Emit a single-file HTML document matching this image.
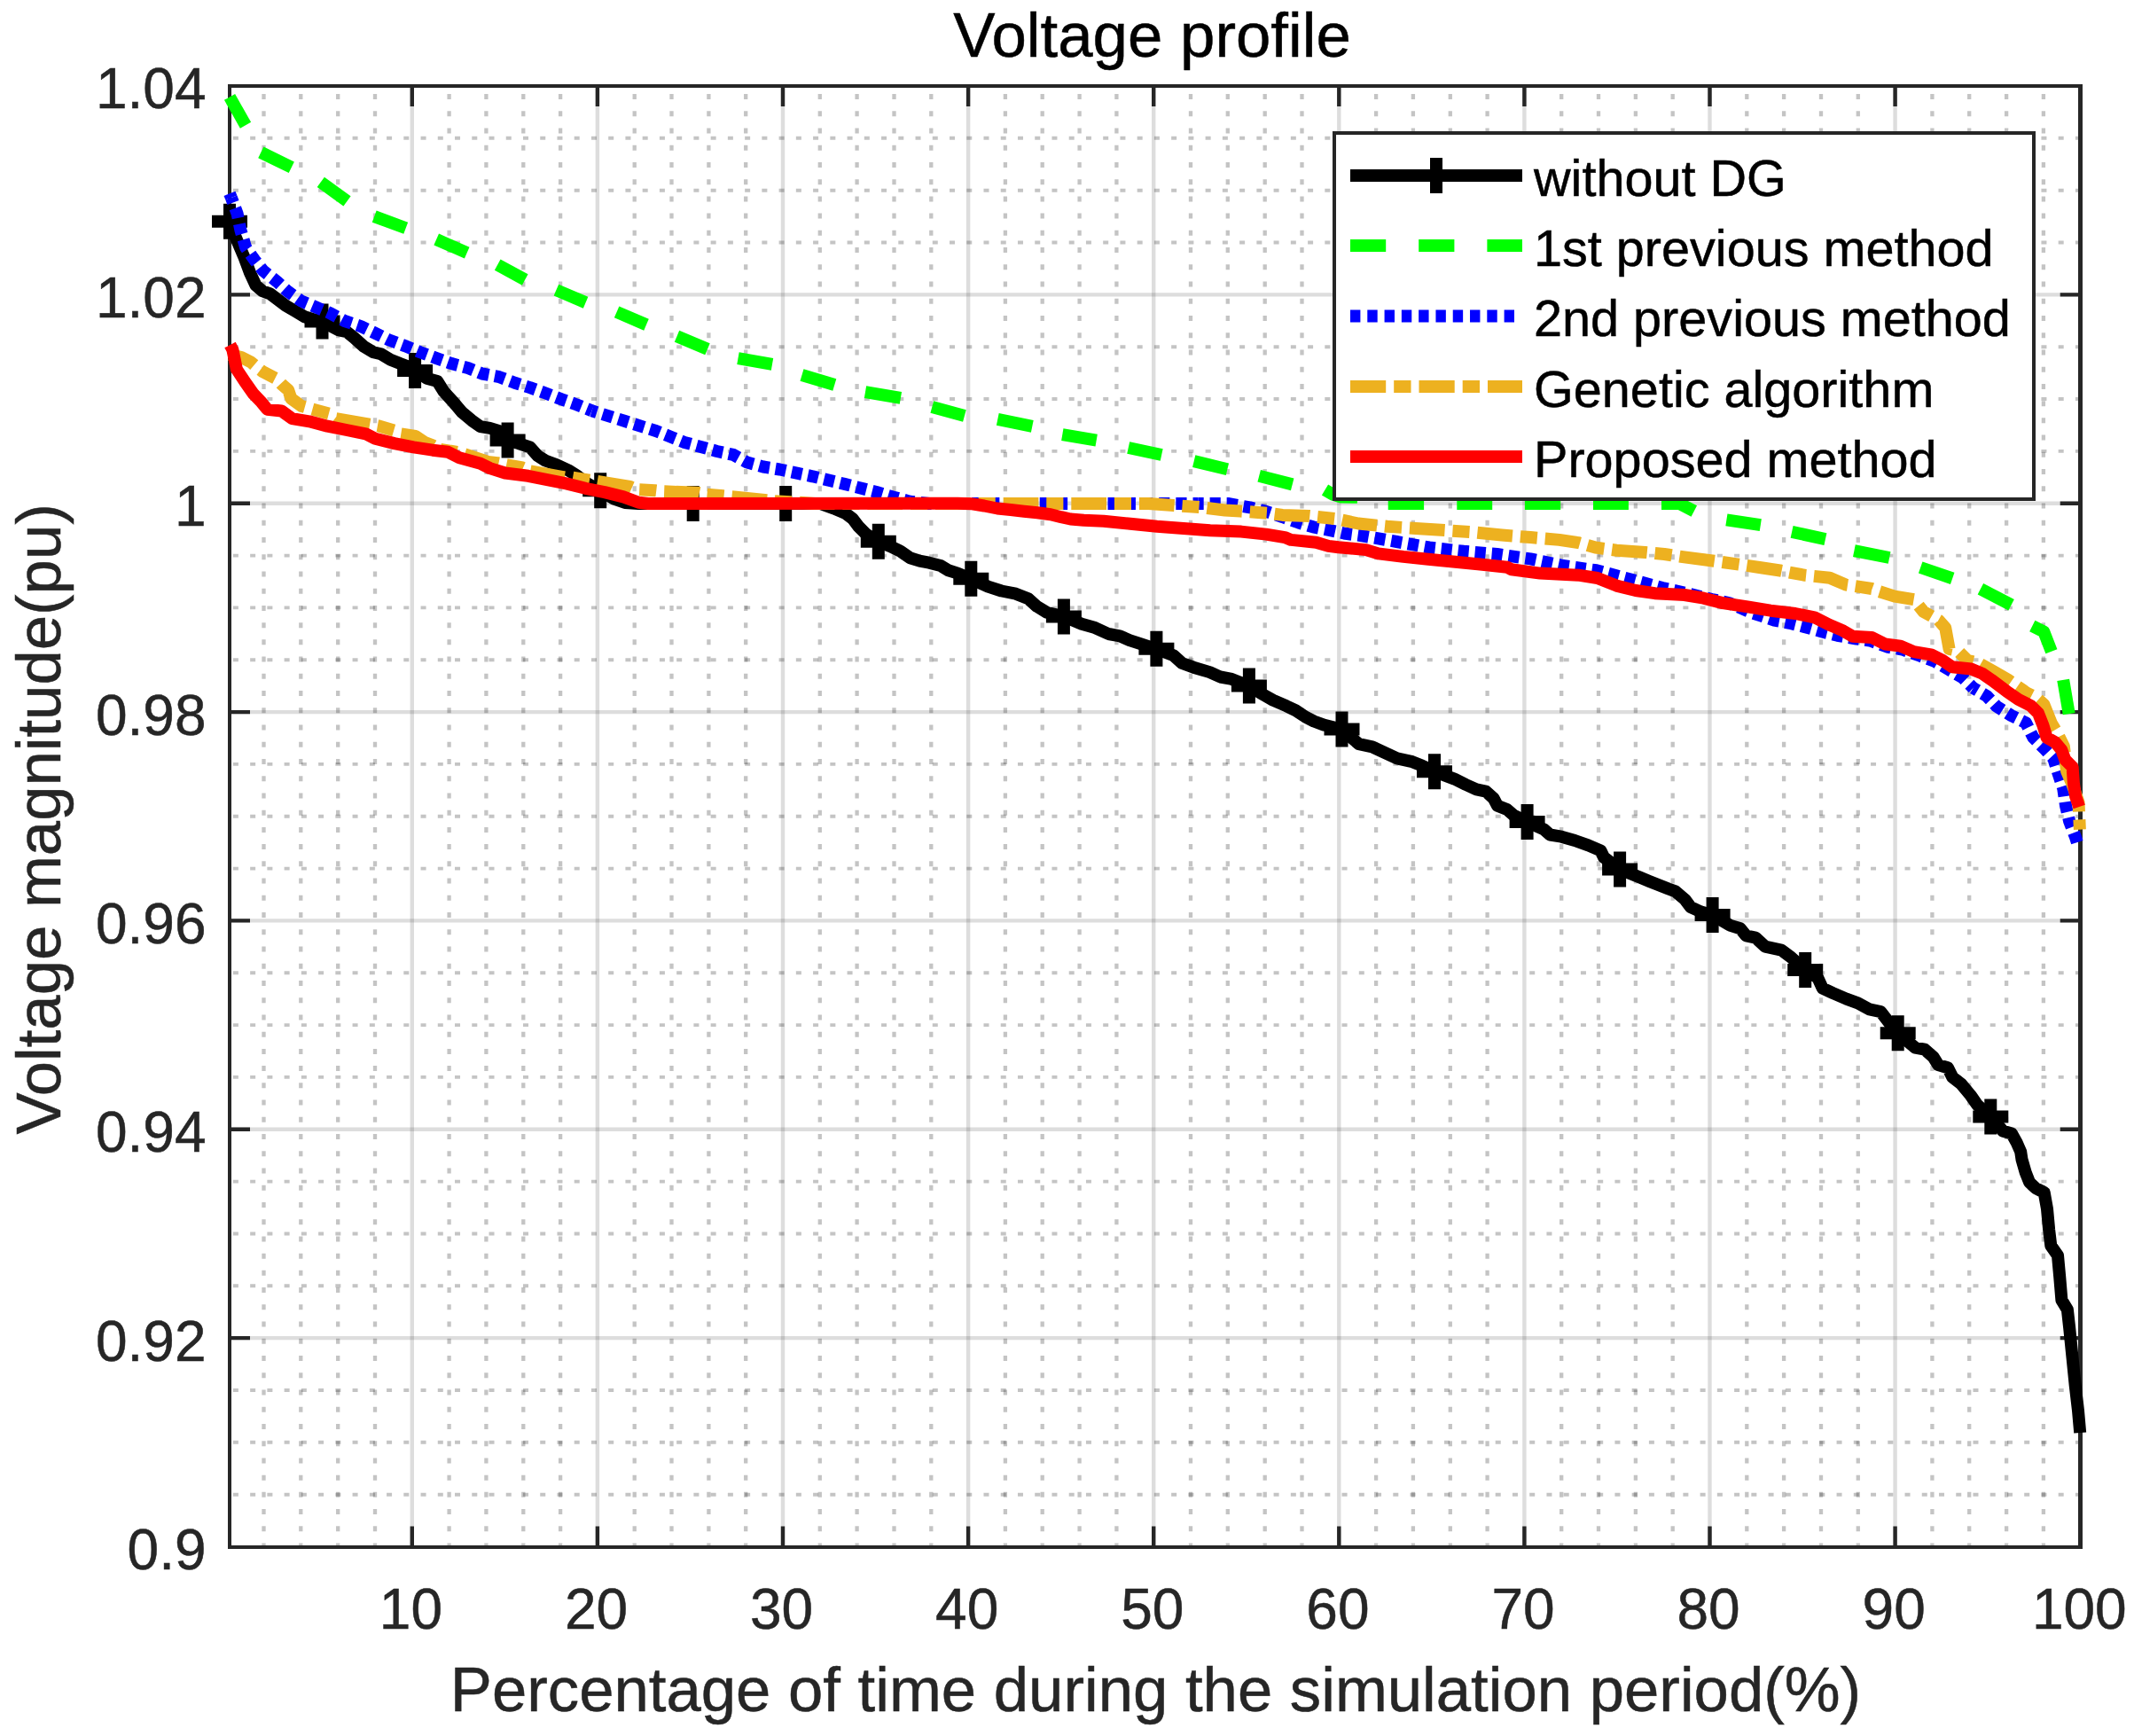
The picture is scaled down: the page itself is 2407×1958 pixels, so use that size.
<!DOCTYPE html>
<html lang="en"><head><meta charset="utf-8"><title>Voltage profile</title>
<style>html,body{margin:0;padding:0;background:#fff}svg{display:block}text{font-family:"Liberation Sans",sans-serif}.tk{font-size:64px;fill:#262626;stroke:#262626;stroke-width:.5px}.lb{font-size:70.7px;fill:#262626;stroke:#262626;stroke-width:.5px}.lg{font-size:57.6px;fill:#000;stroke:#000;stroke-width:.5px}.tt{font-size:70.8px;fill:#000;stroke:#000;stroke-width:.5px}.cv{fill:none;stroke-width:14;stroke-linejoin:round;stroke-linecap:butt}</style></head><body>
<svg width="2407" height="1958" viewBox="0 0 2407 1958">
<rect x="0" y="0" width="2407" height="1958" fill="#fff"/>
<g stroke="#1a1a1a" stroke-opacity="0.26" fill="none">
<line x1="297.5" y1="106" x2="297.5" y2="1744.5" stroke-width="4.3" stroke-dasharray="6 13.230"/>
<line x1="339.3" y1="106" x2="339.3" y2="1744.5" stroke-width="4.3" stroke-dasharray="6 13.230"/>
<line x1="381.2" y1="106" x2="381.2" y2="1744.5" stroke-width="4.3" stroke-dasharray="6 13.230"/>
<line x1="423" y1="106" x2="423" y2="1744.5" stroke-width="4.3" stroke-dasharray="6 13.230"/>
<line x1="506.6" y1="106" x2="506.6" y2="1744.5" stroke-width="4.3" stroke-dasharray="6 13.230"/>
<line x1="548.4" y1="106" x2="548.4" y2="1744.5" stroke-width="4.3" stroke-dasharray="6 13.230"/>
<line x1="590.3" y1="106" x2="590.3" y2="1744.5" stroke-width="4.3" stroke-dasharray="6 13.230"/>
<line x1="632.1" y1="106" x2="632.1" y2="1744.5" stroke-width="4.3" stroke-dasharray="6 13.230"/>
<line x1="715.7" y1="106" x2="715.7" y2="1744.5" stroke-width="4.3" stroke-dasharray="6 13.230"/>
<line x1="757.5" y1="106" x2="757.5" y2="1744.5" stroke-width="4.3" stroke-dasharray="6 13.230"/>
<line x1="799.4" y1="106" x2="799.4" y2="1744.5" stroke-width="4.3" stroke-dasharray="6 13.230"/>
<line x1="841.2" y1="106" x2="841.2" y2="1744.5" stroke-width="4.3" stroke-dasharray="6 13.230"/>
<line x1="924.8" y1="106" x2="924.8" y2="1744.5" stroke-width="4.3" stroke-dasharray="6 13.230"/>
<line x1="966.6" y1="106" x2="966.6" y2="1744.5" stroke-width="4.3" stroke-dasharray="6 13.230"/>
<line x1="1008.5" y1="106" x2="1008.5" y2="1744.5" stroke-width="4.3" stroke-dasharray="6 13.230"/>
<line x1="1050.3" y1="106" x2="1050.3" y2="1744.5" stroke-width="4.3" stroke-dasharray="6 13.230"/>
<line x1="1133.9" y1="106" x2="1133.9" y2="1744.5" stroke-width="4.3" stroke-dasharray="6 13.230"/>
<line x1="1175.7" y1="106" x2="1175.7" y2="1744.5" stroke-width="4.3" stroke-dasharray="6 13.230"/>
<line x1="1217.6" y1="106" x2="1217.6" y2="1744.5" stroke-width="4.3" stroke-dasharray="6 13.230"/>
<line x1="1259.4" y1="106" x2="1259.4" y2="1744.5" stroke-width="4.3" stroke-dasharray="6 13.230"/>
<line x1="1343" y1="106" x2="1343" y2="1744.5" stroke-width="4.3" stroke-dasharray="6 13.230"/>
<line x1="1384.8" y1="106" x2="1384.8" y2="1744.5" stroke-width="4.3" stroke-dasharray="6 13.230"/>
<line x1="1426.7" y1="106" x2="1426.7" y2="1744.5" stroke-width="4.3" stroke-dasharray="6 13.230"/>
<line x1="1468.5" y1="106" x2="1468.5" y2="1744.5" stroke-width="4.3" stroke-dasharray="6 13.230"/>
<line x1="1552.1" y1="106" x2="1552.1" y2="1744.5" stroke-width="4.3" stroke-dasharray="6 13.230"/>
<line x1="1593.9" y1="106" x2="1593.9" y2="1744.5" stroke-width="4.3" stroke-dasharray="6 13.230"/>
<line x1="1635.8" y1="106" x2="1635.8" y2="1744.5" stroke-width="4.3" stroke-dasharray="6 13.230"/>
<line x1="1677.6" y1="106" x2="1677.6" y2="1744.5" stroke-width="4.3" stroke-dasharray="6 13.230"/>
<line x1="1761.2" y1="106" x2="1761.2" y2="1744.5" stroke-width="4.3" stroke-dasharray="6 13.230"/>
<line x1="1803" y1="106" x2="1803" y2="1744.5" stroke-width="4.3" stroke-dasharray="6 13.230"/>
<line x1="1844.9" y1="106" x2="1844.9" y2="1744.5" stroke-width="4.3" stroke-dasharray="6 13.230"/>
<line x1="1886.7" y1="106" x2="1886.7" y2="1744.5" stroke-width="4.3" stroke-dasharray="6 13.230"/>
<line x1="1970.3" y1="106" x2="1970.3" y2="1744.5" stroke-width="4.3" stroke-dasharray="6 13.230"/>
<line x1="2012.1" y1="106" x2="2012.1" y2="1744.5" stroke-width="4.3" stroke-dasharray="6 13.230"/>
<line x1="2054" y1="106" x2="2054" y2="1744.5" stroke-width="4.3" stroke-dasharray="6 13.230"/>
<line x1="2095.8" y1="106" x2="2095.8" y2="1744.5" stroke-width="4.3" stroke-dasharray="6 13.230"/>
<line x1="2179.4" y1="106" x2="2179.4" y2="1744.5" stroke-width="4.3" stroke-dasharray="6 13.230"/>
<line x1="2221.2" y1="106" x2="2221.2" y2="1744.5" stroke-width="4.3" stroke-dasharray="6 13.230"/>
<line x1="2263.1" y1="106" x2="2263.1" y2="1744.5" stroke-width="4.3" stroke-dasharray="6 13.230"/>
<line x1="2304.9" y1="106" x2="2304.9" y2="1744.5" stroke-width="4.3" stroke-dasharray="6 13.230"/>
<line x1="262.9" y1="155.8" x2="2346.7" y2="155.8" stroke-width="3.9" stroke-dasharray="6 13.241"/>
<line x1="262.9" y1="214.7" x2="2346.7" y2="214.7" stroke-width="3.9" stroke-dasharray="6 13.241"/>
<line x1="262.9" y1="273.5" x2="2346.7" y2="273.5" stroke-width="3.9" stroke-dasharray="6 13.241"/>
<line x1="262.9" y1="391.2" x2="2346.7" y2="391.2" stroke-width="3.9" stroke-dasharray="6 13.241"/>
<line x1="262.9" y1="450" x2="2346.7" y2="450" stroke-width="3.9" stroke-dasharray="6 13.241"/>
<line x1="262.9" y1="508.9" x2="2346.7" y2="508.9" stroke-width="3.9" stroke-dasharray="6 13.241"/>
<line x1="262.9" y1="626.6" x2="2346.7" y2="626.6" stroke-width="3.9" stroke-dasharray="6 13.241"/>
<line x1="262.9" y1="685.4" x2="2346.7" y2="685.4" stroke-width="3.9" stroke-dasharray="6 13.241"/>
<line x1="262.9" y1="744.2" x2="2346.7" y2="744.2" stroke-width="3.9" stroke-dasharray="6 13.241"/>
<line x1="262.9" y1="861.9" x2="2346.7" y2="861.9" stroke-width="3.9" stroke-dasharray="6 13.241"/>
<line x1="262.9" y1="920.8" x2="2346.7" y2="920.8" stroke-width="3.9" stroke-dasharray="6 13.241"/>
<line x1="262.9" y1="979.6" x2="2346.7" y2="979.6" stroke-width="3.9" stroke-dasharray="6 13.241"/>
<line x1="262.9" y1="1097.3" x2="2346.7" y2="1097.3" stroke-width="3.9" stroke-dasharray="6 13.241"/>
<line x1="262.9" y1="1156.1" x2="2346.7" y2="1156.1" stroke-width="3.9" stroke-dasharray="6 13.241"/>
<line x1="262.9" y1="1214.9" x2="2346.7" y2="1214.9" stroke-width="3.9" stroke-dasharray="6 13.241"/>
<line x1="262.9" y1="1332.6" x2="2346.7" y2="1332.6" stroke-width="3.9" stroke-dasharray="6 13.241"/>
<line x1="262.9" y1="1391.5" x2="2346.7" y2="1391.5" stroke-width="3.9" stroke-dasharray="6 13.241"/>
<line x1="262.9" y1="1450.3" x2="2346.7" y2="1450.3" stroke-width="3.9" stroke-dasharray="6 13.241"/>
<line x1="262.9" y1="1568" x2="2346.7" y2="1568" stroke-width="3.9" stroke-dasharray="6 13.241"/>
<line x1="262.9" y1="1626.8" x2="2346.7" y2="1626.8" stroke-width="3.9" stroke-dasharray="6 13.241"/>
<line x1="262.9" y1="1685.7" x2="2346.7" y2="1685.7" stroke-width="3.9" stroke-dasharray="6 13.241"/>
</g>
<g stroke="#262626" stroke-opacity="0.155" stroke-width="4.4" fill="none">
<line x1="464.8" y1="97" x2="464.8" y2="1744.5"/>
<line x1="673.9" y1="97" x2="673.9" y2="1744.5"/>
<line x1="883" y1="97" x2="883" y2="1744.5"/>
<line x1="1092.1" y1="97" x2="1092.1" y2="1744.5"/>
<line x1="1301.2" y1="97" x2="1301.2" y2="1744.5"/>
<line x1="1510.3" y1="97" x2="1510.3" y2="1744.5"/>
<line x1="1719.4" y1="97" x2="1719.4" y2="1744.5"/>
<line x1="1928.5" y1="97" x2="1928.5" y2="1744.5"/>
<line x1="2137.6" y1="97" x2="2137.6" y2="1744.5"/>
<line x1="259" y1="332.4" x2="2346.7" y2="332.4"/>
<line x1="259" y1="567.7" x2="2346.7" y2="567.7"/>
<line x1="259" y1="803.1" x2="2346.7" y2="803.1"/>
<line x1="259" y1="1038.4" x2="2346.7" y2="1038.4"/>
<line x1="259" y1="1273.8" x2="2346.7" y2="1273.8"/>
<line x1="259" y1="1509.1" x2="2346.7" y2="1509.1"/>
</g>
<g stroke="#262626" stroke-width="4.4" fill="none" stroke-linecap="butt">
<path stroke="none" fill="#262626" d="M257 95H2349V1747H257ZM261 99V1743H2344V99Z" fill-rule="evenodd"/>
<path d="M464.8 1744.5v-23M464.8 97v23M673.9 1744.5v-23M673.9 97v23M883 1744.5v-23M883 97v23M1092.1 1744.5v-23M1092.1 97v23M1301.2 1744.5v-23M1301.2 97v23M1510.3 1744.5v-23M1510.3 97v23M1719.4 1744.5v-23M1719.4 97v23M1928.5 1744.5v-23M1928.5 97v23M2137.6 1744.5v-23M2137.6 97v23M259 332.4h23M2346.7 332.4h-23M259 567.7h23M2346.7 567.7h-23M259 803.1h23M2346.7 803.1h-23M259 1038.4h23M2346.7 1038.4h-23M259 1273.8h23M2346.7 1273.8h-23M259 1509.1h23M2346.7 1509.1h-23"/>
</g>
<polyline class="cv" stroke="#000" points="259,249.7 263.7,262.5 269.1,275.4 275.6,290.5 282,307.7 288.5,321.7 296,328.2 304.7,331.4 313.3,337.9 321.9,344.4 332.7,350.8 343.5,357.3 354.3,360.5 363.1,362.5 373.7,368.1 382.3,372.4 390.9,374.1 399.5,381 410.3,390.7 421.1,397.2 429.7,399.3 440.5,405.8 451.3,410.1 459.9,413.3 467.6,417.5 481.4,426.8 493.3,430.1 500.8,441.9 511.6,453.8 521.3,465.2 532.1,474.2 541.8,481.1 552.6,482.9 563.3,486.1 572.4,496.7 584.9,500.1 597.8,504.4 606.5,514.1 615.1,519.5 628,524.3 640.9,530.3 649.6,535.7 662.5,545.4 677,553.4 692.7,562.6 705,567 720,568 925.1,568 940.2,573.3 953.2,578.7 961.8,585.1 968.3,593.8 976.9,602.4 990.7,610.8 1004.9,616.4 1015.7,621.8 1026.5,629.3 1037.2,632.6 1048,634.7 1060.9,638 1069.6,643.3 1080.3,646.6 1095,652.8 1114.5,661.7 1129.6,666.5 1145.7,669.7 1159.8,675.3 1169.5,683.9 1180.7,690.8 1199.9,695.4 1220.1,703.8 1235.2,708.1 1250.3,715 1263.2,717.3 1274,722.1 1284.1,725.3 1303.8,731.8 1323.6,739.3 1333.3,748 1346.2,752.7 1364.5,758.1 1376.4,763.5 1389.3,765.9 1408.3,773.6 1424.9,783.5 1435.7,789.6 1450.8,796.2 1461.6,801.4 1472.3,808.5 1482,813.5 1493.9,817.8 1512.9,822.5 1532.7,839.1 1547.8,842.3 1560.7,848.4 1575.8,855.3 1593,859.2 1603.8,863.5 1618.1,870.2 1640.5,878.6 1653.4,885 1665.3,890.4 1676,892.6 1684.7,900.5 1689,908.7 1699.8,913 1707.3,919.5 1722.6,927.1 1741.8,935.7 1748.3,941.5 1761.2,943.7 1776.3,948 1791.4,953.4 1805.4,959.4 1809,966.9 1827.2,980.5 1849.6,989.6 1860.3,993.9 1871.1,998.2 1881.9,1002.5 1889.7,1005.4 1900.5,1014.5 1906.9,1023.1 1918.8,1028.5 1931.5,1032 1951.1,1043.6 1963,1047.3 1969.5,1055.4 1980.2,1057.6 1991,1067.7 2009.3,1071.6 2020.1,1079.6 2036.1,1094 2050.3,1102.9 2055.7,1114.7 2067.5,1120.1 2082.6,1126.6 2095.6,1131.3 2108.5,1138.4 2121.4,1141.2 2130.1,1152.5 2140.4,1165.2 2160.2,1181.6 2171,1183.7 2180.7,1192.3 2186.1,1201 2196.9,1204.2 2202.3,1215 2212,1222.5 2222.7,1235.4 2230.3,1246.2 2245.2,1259.4 2259.4,1275.8 2269.1,1278.6 2274.5,1288.3 2279.2,1299 2280.5,1307.7 2284.8,1322.7 2289.1,1333.5 2296,1340 2305.7,1345 2309,1363.5 2311.2,1387.5 2313.3,1405 2321,1416 2323.2,1440 2325.4,1466.3 2331.9,1477.2 2334.1,1496.9 2337.4,1529.8 2340.7,1562.6 2344,1591 2346.2,1616"/>
<path d="M239 249.8h40M259 229.8v40M343.5 362.4h40M363.5 342.4v40M448.1 417.9h40M468.1 397.9v40M552.6 496.6h40M572.6 476.6v40M657.2 553.3h40M677.2 533.3v40M761.7 568.1h40M781.7 548.1v40M866.2 568.1h40M886.2 548.1v40M970.8 610.8h40M990.8 590.8v40M1075.3 652.8h40M1095.3 632.8v40M1179.9 695.4h40M1199.9 675.4v40M1284.4 731.8h40M1304.4 711.8v40M1388.9 773.6h40M1408.9 753.6v40M1493.5 822.5h40M1513.5 802.5v40M1598 870.2h40M1618 850.2v40M1702.6 927.1h40M1722.6 907.1v40M1807.1 980.6h40M1827.1 960.6v40M1911.6 1032h40M1931.6 1012v40M2016.2 1094h40M2036.2 1074v40M2120.7 1165.2h40M2140.7 1145.2v40M2225.3 1259.5h40M2245.3 1239.5v40" fill="none" stroke="#000" stroke-width="14"/>
<g class="cv" stroke="#00ff00">
<polyline points="259,109.4 277,141.3"/>
<polyline points="294.3,171.9 328.8,188.7"/>
<polyline points="361.8,205.3 391.5,226.9"/>
<polyline points="422.2,244.1 457.7,257.3"/>
<polyline points="492.2,270 526.7,285.1"/>
<polyline points="561.2,298.7 592.2,315.5"/>
<polyline points="627.4,327.1 660.6,341.3"/>
<polyline points="695.6,351.9 729,366.3"/>
<polyline points="763.5,379.3 798,393.7"/>
<polyline points="832.5,404.1 871,410.8"/>
<polyline points="904.5,423 941.3,434"/>
<polyline points="976,442.2 1015.9,448.9"/>
<polyline points="1051.3,459 1087.9,469"/>
<polyline points="1125.3,472.9 1164.3,480.9"/>
<polyline points="1198.3,490.1 1236.7,496.6"/>
<polyline points="1272.7,505 1310.2,513"/>
<polyline points="1346.7,520.1 1384.4,529.2"/>
<polyline points="1420.2,536.7 1457.7,546.4"/>
<polyline points="1494.5,552.4 1503,557.5 1512,560.4 1531,560.8"/>
<polyline points="1565.7,568 1606.1,568"/>
<polyline points="1643.3,568 1683.2,568"/>
<polyline points="1719.9,568 1760.2,568"/>
<polyline points="1797,568 1836.9,568"/>
<polyline points="1874,568 1894.5,568 1910.8,576.5"/>
<polyline points="1947.4,586.3 1985.8,592.2"/>
<polyline points="2021.1,599.9 2058.9,608.1"/>
<polyline points="2091.4,621.1 2131.1,629"/>
<polyline points="2166.2,640 2202.2,652.3"/>
<polyline points="2233.9,664.2 2268.6,682.3"/>
<polyline points="2292.3,706 2305.3,712.5 2313.9,734.7"/>
<polyline points="2327.2,766.8 2333.7,805.1"/>
</g>
<g class="cv" stroke="#0000ff">
<polyline stroke-dasharray="11.73 6.69" stroke-dashoffset="0.80" points="259,218.3 260.9,223"/>
<polyline stroke-dasharray="11.73 6.69" stroke-dashoffset="5.87" points="260.9,223 260.9,223 267.6,240.9 271.3,259.2 277.1,279 287,293.1 297.1,305.6 312.2,317.4 324.7,328.8 339.6,339.4 356.4,346.5 371.9,353 388.7,362 407.1,368.1 422.8,375.6 438.3,383.2 456.6,390.1 473.9,397.2 491.1,403.6 509.5,410.1 527.8,415 543.9,421.5 563.3,425.2 580.6,431.7 597.8,437.1 615.5,443.5 633.4,450.4 650.7,456.5 667.5,463.3"/>
<polyline stroke-dasharray="11.89 6.77" stroke-dashoffset="5.94" points="667.5,463.3 667.5,463.3 704.2,474.8 739.8,486 772.1,498.9 808.7,509 827.1,512.9 842.8,521.6 860.9,526.5 879.4,529.5 916.5,537.3 952.5,545.9 988.7,555 1007,560.4 1025.4,565.4"/>
<polyline stroke-dasharray="12.23 6.97" stroke-dashoffset="6.11" points="1025.4,565.4 1026.5,565.7 1048,568 1274,568 1351.6,568"/>
<polyline stroke-dasharray="12.15 6.92" stroke-dashoffset="6.07" points="1351.6,568 1385,568 1409.8,572.3 1427.1,576.6 1446.5,583 1464.8,589.5 1481,594.3 1500.3,598.1 1517.6,601.8 1537.7,604.5 1575.4,611 1612.1,617.5 1650.9,621.8 1688.6,625 1726.3,630.4 1763,638 1800.7,643.3 1837.4,653 1875.1,663 1900,668.5 1931,676 1931.1,676"/>
<polyline stroke-dasharray="11.79 6.72" stroke-dashoffset="5.90" points="1931.1,676 1950,680 1975.4,690.9 2001.3,699.5 2018.6,702.8 2038,707.7 2055.2,712.5 2072.5,716.8 2094,720.5 2109.1,722.5 2128.5,729.5 2145.7,732.5 2165.1,739.5 2182.4,746 2195.3,753.5 2213.6,764.2 2225.6,775.9"/>
<polyline stroke-dasharray="11.47 6.54" stroke-dashoffset="5.74" points="2225.6,775.9 2225.6,775.9 2240.8,784.9 2251.9,796.6 2268.5,807 2285.1,815.3 2293.4,831.9 2305.8,844.3 2316.2,855.4 2321,870.6 2327.2,889.3 2330,908.6 2334.2,926.6 2341.1,944.6 2343.1,950.8"/>
</g>
<polyline class="cv" stroke="#edb120" stroke-dasharray="39.7 8.9 19.1 8.94" stroke-dashoffset="9.1" points="259,399.9 272.3,403.1 283.1,408.5 290.7,415 296.5,419.3 312.2,427.3 318.7,434.4 325.1,439.8 328.4,449.5 340.2,458.1 353.2,461.7 371.9,466.7 379,472.1 416.8,478.6 426.5,480.3 444.8,485.7 452.3,489.3 468.5,491.9 479.3,499 487.9,502.3 495.4,506.6 517,510.2 524.5,512.4 537.5,516.7 550.4,521 561.2,522.1 572,524.3 589.2,527.5 597.8,531.2 636.6,538.3 644.2,538.3 665.7,541.9 671.9,542.5 710.7,548.9 718.2,552.2 738.7,553.2 748,554.3 787.6,555.8 795.8,557.6 815.6,559.3 824.3,560.1 862.6,564 872.3,565.1 891.7,566.2 901,566.6 918.7,568 1295.6,568 1323.6,570.1 1355.9,572.3 1381.8,575.5 1399,576.6 1429.2,578.7 1446.5,580.9 1476.6,582 1506.8,585.2 1532.3,590.5 1564.7,593.8 1597,595.9 1629.3,598.1 1661.7,600.2 1694,603.5 1726.3,606.1 1758.7,608.9 1780.2,612.1 1799.6,617.5 1823.3,620.7 1855.7,622.9 1877.2,625 1900,628.4 1933.4,632.7 1961.4,636.6 1986.2,640.2 2007.8,643.5 2036.2,648.9 2063.8,651.7 2082.2,659.6 2111.3,664 2119.9,667.2 2137.1,672.6 2158.7,676.2 2169.5,689.8 2186.7,699.5 2194.2,708.1 2198.6,731.9 2208.3,734 2219,744.8 2232,748 2249.2,757.7 2264.3,766.3 2285.9,781.4 2296.6,786.8 2305.3,794.4 2313.9,815.9 2320.3,826.7 2327.9,841.8 2331.1,869.8 2337.6,884.9"/>
<polyline class="cv" stroke="#edb120" stroke-dasharray="39.7 8.9 19.1 8.94" stroke-dashoffset="7.9" points="2337.6,884.9 2337.6,884.9 2344.5,905 2345.9,935.6"/>
<polyline class="cv" stroke="#ff0000" points="259.5,389 262.4,394.5 266.9,416.5 276.6,431.1 285.3,443.6 295,453.8 301.4,461.7 317.6,463.5 329.5,472.1 348.9,475.3 369.3,480.7 390.9,485 412.5,489.3 423.2,494.7 444.8,500.1 466.3,504.4 487.9,507.7 505.1,509.8 518.1,516.3 541.8,522.8 552.6,528.1 569.8,533.5 595.7,536.8 617.2,541.1 638.8,545.4 660.3,550.8 681.9,555.1 703.1,560.4 720.4,566.8 731.1,568 1080,567.8 1095,568.2 1110,570.5 1125,573.5 1140,575 1155,576.8 1170,578.3 1185,580.2 1197,583.2 1207.5,585.5 1222.4,586.7 1244.9,587.7 1274.9,590.7 1304.9,593.7 1334.9,596 1364.9,598.2 1400,599.6 1428.1,602.6 1449.2,606.1 1456.2,608.9 1484.4,611.7 1498.4,615.9 1509.7,617.3 1540.6,620.1 1554.6,624.4 1582.8,627.9 1610.9,630.7 1639,633.5 1667.1,636.3 1700,639.8 1704.8,642.3 1737.1,646.6 1780.2,648.7 1801.8,652 1823.3,660.6 1844.9,666 1866.5,669.2 1900,671 1921.6,674.7 1943.1,680.1 1971.1,684.4 1997,688.7 2025,692 2046.6,696.3 2063.8,704.9 2078.9,711.4 2089.7,717.8 2111.3,718.9 2126.3,726.5 2143.6,728.6 2158.7,735.1 2178.1,738.3 2191,744.8 2201.8,752.3 2223.3,754.5 2236.3,759.9 2246.4,766.9 2263,779.4 2276.8,789 2290.6,795.9 2298.9,804.2 2304.4,818.1 2308.6,831.9 2318.3,837.4 2325.2,845.7 2329.3,856.8 2337.6,865.1 2339,884.4 2341.1,898.3 2345.2,910"/>
<rect x="1505" y="150" width="789" height="413" fill="#fff" stroke="#262626" stroke-width="4"/>
<g fill="none" stroke-width="14">
<path d="M1523 198H1717" stroke="#000"/>
<path d="M1600 198h40M1620 178v40" stroke="#000" stroke-width="14"/>
<path d="M1523 277H1717" stroke="#00ff00" stroke-dasharray="40.2 37"/>
<path d="M1523 356.5H1708" stroke="#0000ff" stroke-dasharray="11.4 7.89"/>
<path d="M1523 436H1717" stroke="#edb120" stroke-dasharray="40.2 9 19.3 9"/>
<path d="M1523 515H1717" stroke="#ff0000"/>
</g>
<text class="lg" x="1730" y="220.6">without DG</text>
<text class="lg" x="1730" y="299.6">1st previous method</text>
<text class="lg" x="1730" y="379.1">2nd previous method</text>
<text class="lg" x="1730" y="458.6">Genetic algorithm</text>
<text class="lg" x="1730" y="537.6">Proposed method</text>
<text class="tk" text-anchor="middle" x="463.4" y="1836.8">10</text>
<text class="tk" text-anchor="middle" x="672.5" y="1836.8">20</text>
<text class="tk" text-anchor="middle" x="881.6" y="1836.8">30</text>
<text class="tk" text-anchor="middle" x="1090.7" y="1836.8">40</text>
<text class="tk" text-anchor="middle" x="1299.8" y="1836.8">50</text>
<text class="tk" text-anchor="middle" x="1508.9" y="1836.8">60</text>
<text class="tk" text-anchor="middle" x="1718" y="1836.8">70</text>
<text class="tk" text-anchor="middle" x="1927.1" y="1836.8">80</text>
<text class="tk" text-anchor="middle" x="2136.2" y="1836.8">90</text>
<text class="tk" text-anchor="middle" x="2345.3" y="1836.8">100</text>
<text class="tk" text-anchor="end" x="232.5" y="122.4">1.04</text>
<text class="tk" text-anchor="end" x="232.5" y="357.8">1.02</text>
<text class="tk" text-anchor="end" x="232.5" y="593.1">1</text>
<text class="tk" text-anchor="end" x="232.5" y="828.5">0.98</text>
<text class="tk" text-anchor="end" x="232.5" y="1063.8">0.96</text>
<text class="tk" text-anchor="end" x="232.5" y="1299.2">0.94</text>
<text class="tk" text-anchor="end" x="232.5" y="1534.5">0.92</text>
<text class="tk" text-anchor="end" x="232.5" y="1769.9">0.9</text>
<text class="tt" text-anchor="middle" x="1299.5" y="63.7">Voltage profile</text>
<text class="lb" text-anchor="middle" x="1303.5" y="1930">Percentage of time during the simulation period(%)</text>
<text class="lb" text-anchor="middle" transform="translate(68 923.9) rotate(-90)">Voltage magnitude(pu)</text>
</svg></body></html>
